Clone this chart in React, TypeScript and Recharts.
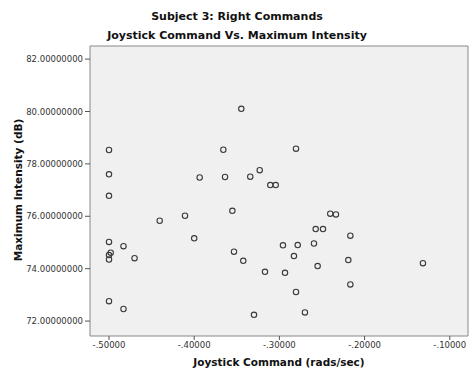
import React from 'react';
import { ScatterChart, Scatter, XAxis, YAxis, CartesianGrid, ReferenceArea } from 'recharts';

const commands = [
  -0.5, -0.5, -0.5, -0.5, -0.498, -0.5, -0.5, -0.5, -0.483, -0.483, -0.47,
  -0.4405, -0.4108, -0.4, -0.3936, -0.3658, -0.3638, -0.3447, -0.3552, -0.3533,
  -0.3424, -0.3342, -0.3231, -0.3169, -0.3298, -0.3107, -0.3043, -0.2805,
  -0.2403, -0.2336, -0.2574, -0.2488, -0.2167, -0.2958, -0.2785, -0.2594,
  -0.2829, -0.2551, -0.2191, -0.1315, -0.2934, -0.2167, -0.2805, -0.27,
];
const intensities = [
  78.53, 77.6, 76.78, 75.02, 74.61, 74.52, 74.35, 72.76, 72.46, 74.86, 74.4,
  75.83, 76.02, 75.16, 77.48, 78.54, 77.5, 80.1, 76.21, 74.65,
  74.3, 77.51, 77.76, 73.88, 72.24, 77.19, 77.19, 78.58,
  76.1, 76.07, 75.51, 75.51, 75.26, 74.89, 74.9, 74.96,
  74.48, 74.1, 74.33, 74.21, 73.84, 73.4, 73.11, 72.33,
];
const xTicks = [-0.5, -0.4, -0.3, -0.2, -0.1];
const yTicks = [72, 74, 76, 78, 80, 82];
const xDomain: [number, number] = [-0.5223, -0.0786];
const yDomain: [number, number] = [71.43, 82.5];

const titleLine1 = 'Subject 3: Right Commands';
const titleLine2 = 'Joystick Command Vs. Maximum Intensity';
const xLabel = 'Joystick Command (rads/sec)';
const yLabel = 'Maximum Intensity (dB)';

const data = commands.map((x, i) => ({ x, y: intensities[i] }));

const FONT = '"DejaVu Sans", Verdana, sans-serif';

const fmtX = (v: number) => v.toFixed(5).replace('-0.', '-.');
const fmtY = (v: number) => v.toFixed(8);

const Dot = (props: any) => {
  const { cx, cy } = props;
  if (cx == null || cy == null) return null;
  return <circle cx={cx} cy={cy} r={2.7} fill="none" stroke="#3a3a3a" strokeWidth={1.1} />;
};

export default function App() {
  return (
    <div style={{ position: 'absolute', left: 0, top: 0, width: 474, height: 379, background: '#fff' }}>
      <ScatterChart width={474} height={379} margin={{ top: 46, right: 6, bottom: 13, left: 0 }}>
        <CartesianGrid fill="#f0f0f0" horizontal={false} vertical={false} />
        <ReferenceArea
          x1={xDomain[0]}
          x2={xDomain[1]}
          y1={yDomain[0]}
          y2={yDomain[1]}
          fill="none"
          stroke="#888"
          strokeWidth={1}
        />
        <XAxis
          type="number"
          dataKey="x"
          domain={xDomain}
          ticks={xTicks}
          tickFormatter={fmtX}
          height={30}
          tickSize={4}
          tickMargin={2}
          axisLine={false}
          tickLine={{ stroke: '#555' }}
          tick={{ fontSize: 8.5, fill: '#333', fontFamily: FONT }}
          allowDataOverflow
        />
        <YAxis
          type="number"
          dataKey="y"
          domain={yDomain}
          ticks={yTicks}
          tickFormatter={fmtY}
          width={90}
          tickSize={5}
          tickMargin={2}
          axisLine={false}
          tickLine={{ stroke: '#555' }}
          tick={{ fontSize: 8.5, fill: '#333', fontFamily: FONT }}
          allowDataOverflow
        />
        <Scatter data={data} shape={<Dot />} isAnimationActive={false} />
      </ScatterChart>
      <svg width={474} height={379} style={{ position: 'absolute', left: 0, top: 0, pointerEvents: 'none' }}>
        <g fontFamily={FONT} fontWeight="bold" fill="#111">
          <text x={237} y={20} textAnchor="middle" fontSize={11}>{titleLine1}</text>
          <text x={237} y={39} textAnchor="middle" fontSize={11}>{titleLine2}</text>
          <text x={279} y={366} textAnchor="middle" fontSize={10.5}>{xLabel}</text>
          <text x={22} y={190} textAnchor="middle" fontSize={10.5} transform="rotate(-90 22 190)">{yLabel}</text>
        </g>
      </svg>
    </div>
  );
}
